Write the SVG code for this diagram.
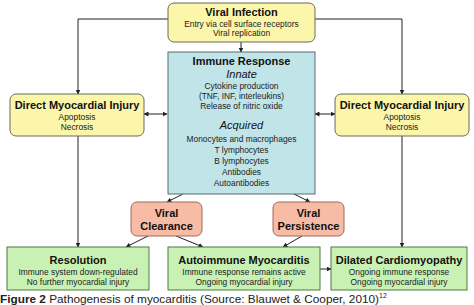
<svg xmlns="http://www.w3.org/2000/svg" width="474" height="305" viewBox="0 0 474 305">
<defs>
<style>
text{font-family:"Liberation Sans",Arial,sans-serif;text-anchor:middle;fill:#111}
.t{font-size:11px;font-weight:bold}
.s{font-size:8.4px;fill:#222}
.i{font-size:11px;font-style:italic}
.y{fill:#fbf6aa;stroke:#6b6b5a;stroke-width:1}
.b{fill:#c0e4e8;stroke:#5c6a6c;stroke-width:1}
.r{fill:#f7bba6;stroke:#9c6a5a;stroke-width:1}
.g{fill:#c9f1b3;stroke:#4e7a3e;stroke-width:1}
.c{fill:none;stroke:#222;stroke-width:1}
</style>
<marker id="a" viewBox="0 0 10 10" refX="9" refY="5" markerWidth="5" markerHeight="5" orient="auto-start-reverse" markerUnits="userSpaceOnUse">
<path d="M0,0L10,5L0,10z" fill="#222"/>
</marker>
</defs>
<g id="connectors">
<path class="c" d="M168,19H78V94" marker-end="url(#a)"/>
<path class="c" d="M315,19H402V94" marker-end="url(#a)"/>
<path class="c" d="M241,42V52" marker-end="url(#a)"/>
<path class="c" d="M144,114H167" marker-start="url(#a)" marker-end="url(#a)"/>
<path class="c" d="M315,114H335" marker-start="url(#a)" marker-end="url(#a)"/>
<path class="c" d="M78,136V247" marker-end="url(#a)"/>
<path class="c" d="M402,136V247" marker-end="url(#a)"/>
<path class="c" d="M183,194L167,202" marker-end="url(#a)"/>
<path class="c" d="M294,194L310,202" marker-end="url(#a)"/>
<path class="c" d="M148,236L126,247" marker-end="url(#a)"/>
<path class="c" d="M176,236L203,247" marker-end="url(#a)"/>
<path class="c" d="M302,236L283,247" marker-end="url(#a)"/>
<path class="c" d="M320,269H331" marker-end="url(#a)"/>
</g>
<g id="viral-infection">
<rect class="y" x="168" y="3" width="147" height="39" rx="6"/>
<text class="t" x="241.5" y="16">Viral Infection</text>
<text class="s" x="241.5" y="27">Entry via cell surface receptors</text>
<text class="s" x="241.5" y="36">Viral replication</text>
</g>
<g id="immune-response">
<rect class="b" x="168" y="52" width="147" height="142"/>
<text class="t" x="241.5" y="65">Immune Response</text>
<text class="i" x="241.5" y="78">Innate</text>
<text class="s" x="241.5" y="89">Cytokine production</text>
<text class="s" x="241.5" y="99">(TNF, INF, interleukins)</text>
<text class="s" x="241.5" y="109">Release of nitric oxide</text>
<text class="i" x="241.5" y="129">Acquired</text>
<text class="s" x="241.5" y="142">Monocytes and macrophages</text>
<text class="s" x="241.5" y="153">T lymphocytes</text>
<text class="s" x="241.5" y="164">B lymphocytes</text>
<text class="s" x="241.5" y="175">Antibodies</text>
<text class="s" x="241.5" y="186">Autoantibodies</text>
</g>
<g id="dmi-left">
<rect class="y" x="10" y="94" width="134" height="42" rx="6"/>
<text class="t" x="77" y="109">Direct Myocardial Injury</text>
<text class="s" x="77" y="120">Apoptosis</text>
<text class="s" x="77" y="130">Necrosis</text>
</g>
<g id="dmi-right">
<rect class="y" x="335" y="94" width="134" height="42" rx="6"/>
<text class="t" x="402" y="109">Direct Myocardial Injury</text>
<text class="s" x="402" y="120">Apoptosis</text>
<text class="s" x="402" y="130">Necrosis</text>
</g>
<g id="viral-clearance">
<rect class="r" x="131" y="202" width="71" height="34" rx="6"/>
<text class="t" x="166.5" y="217">Viral</text>
<text class="t" x="166.5" y="230">Clearance</text>
</g>
<g id="viral-persistence">
<rect class="r" x="273" y="202" width="71" height="34" rx="6"/>
<text class="t" x="308.5" y="217">Viral</text>
<text class="t" x="308.5" y="230">Persistence</text>
</g>
<g id="resolution">
<rect class="g" x="7" y="247" width="142" height="43"/>
<text class="t" x="78" y="264">Resolution</text>
<text class="s" x="78" y="275">Immune system down-regulated</text>
<text class="s" x="78" y="285">No further myocardial injury</text>
</g>
<g id="autoimmune">
<rect class="g" x="168" y="247" width="152" height="43"/>
<text class="t" x="244" y="264">Autoimmune Myocarditis</text>
<text class="s" x="244" y="275">Immune response remains active</text>
<text class="s" x="244" y="285">Ongoing myocardial injury</text>
</g>
<g id="dilated">
<rect class="g" x="331" y="247" width="136" height="43"/>
<text class="t" x="399" y="264">Dilated Cardiomyopathy</text>
<text class="s" x="399" y="275">Ongoing immune response</text>
<text class="s" x="399" y="285">Ongoing myocardial injury</text>
</g>
<text x="0" y="302.5" style="text-anchor:start;font-size:11.8px;fill:#222"><tspan font-weight="bold">Figure 2</tspan> Pathogenesis of myocarditis (Source: Blauwet &amp; Cooper, 2010)<tspan font-size="7" dy="-4.5">12</tspan></text>
</svg>
